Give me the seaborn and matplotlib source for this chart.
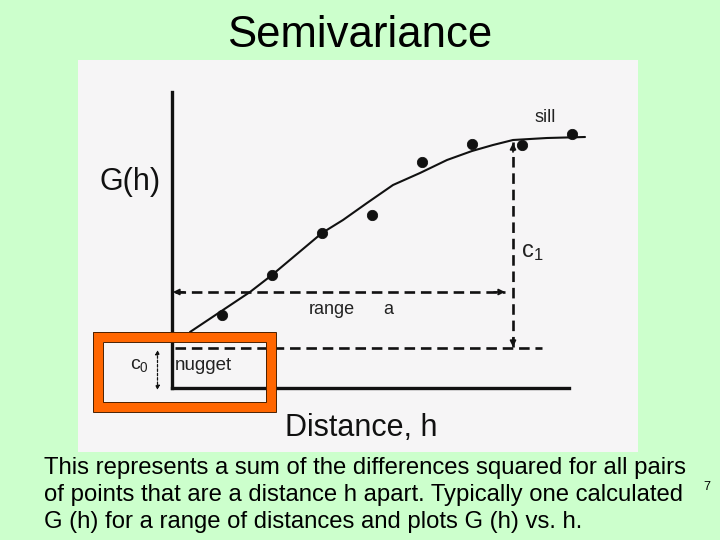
import matplotlib
matplotlib.use('Agg')
import matplotlib.pyplot as plt
from matplotlib.patches import Rectangle
import seaborn as sns

# semivariogram values (h = distance, G = semivariance)
lag_h = [5, 10, 15, 20, 25, 30, 35, 40]
lag_G = [7.3, 11.3, 15.5, 17.3, 22.6, 24.4, 24.3, 25.4]

# fitted model curve
curve_h = [1.8, 7.8, 10.0, 15.0, 17.1, 19.5, 22.1, 24.8, 27.5, 30.0, 32.1, 34.1, 37.5, 41.3]
curve_G = [5.6, 9.6, 11.3, 15.5, 16.8, 18.5, 20.3, 21.5, 22.8, 23.7, 24.3, 24.8, 25.0, 25.1]

nugget = 4.0
sill = 24.8
range_a = 34.1
range_line = 9.6

sns.set_theme(style='white')
plt.rcParams['font.family'] = ['Liberation Sans', 'DejaVu Sans']
plt.rcParams['mathtext.default'] = 'regular'
plt.rcParams['text.color'] = 'black'

ink = '#111111'
fig = plt.figure(figsize=(7.2, 5.4), dpi=100)
fig.patch.set_facecolor('#CCFFCC')

# the scanned picture area
fig.patches.append(Rectangle((78 / 720, 88 / 540), 560 / 720, 392 / 540,
                             transform=fig.transFigure, facecolor='#F6F5F6',
                             edgecolor='none', zorder=0.5))

ax = fig.add_axes([172 / 720, 152 / 540, 397 / 720, 296 / 540])
ax.set_zorder(2)
ax.set_facecolor('none')
ax.set_xlim(0, 39.7)
ax.set_ylim(0, 29.6)
ax.set_xticks([])
ax.set_yticks([])
for s in ['top', 'right']:
    ax.spines[s].set_visible(False)
for s in ['left', 'bottom']:
    ax.spines[s].set_linewidth(2.4)
    ax.spines[s].set_color(ink)

sns.lineplot(x=curve_h, y=curve_G, ax=ax, color=ink, lw=1.5, sort=False,
             estimator=None, clip_on=False, zorder=4)
sns.scatterplot(x=lag_h, y=lag_G, ax=ax, color=ink, s=55, edgecolor=ink,
                zorder=5, clip_on=False)

dash = (0, (4, 2.2))
ax.hlines(range_line, 0.3, range_a - 0.8, colors=ink, lw=1.9, linestyles=dash)
ax.hlines(nugget, 0.3, 37.0, colors=ink, lw=1.9, linestyles=dash)
ax.vlines(range_a, nugget + 0.1, sill - 0.2, colors=ink, lw=1.9, linestyles=dash)

head = dict(arrowstyle='-|>', color=ink, lw=1.2, mutation_scale=9, shrinkA=0, shrinkB=0)
ax.annotate('', xy=(0.1, range_line), xytext=(1.2, range_line), arrowprops=head)
ax.annotate('', xy=(range_a - 0.8, range_line), xytext=(range_a - 1.9, range_line), arrowprops=head)
ax.annotate('', xy=(range_a, nugget + 0.1), xytext=(range_a, nugget + 1.0), arrowprops=head)
ax.annotate('', xy=(range_a, sill - 0.3), xytext=(range_a, sill - 1.2), arrowprops=head)
ax.annotate('', xy=(-1.45, -0.2), xytext=(-1.45, nugget - 0.2), annotation_clip=False,
            arrowprops=dict(arrowstyle='<|-|>', color=ink, lw=0.9, ls=(0, (2, 1.5)),
                            mutation_scale=6, shrinkA=0, shrinkB=0))

ax.text(13.7, 7.8, 'range', fontsize=13, color='#222222', va='center')
ax.text(21.1, 7.8, 'a', fontsize=13, color='#222222', va='center')
ax.text(37.3, 27.0, 'sill', fontsize=13, color='#222222', ha='center', va='center')
ax.text(36.0, 13.6, 'c$_1$', fontsize=17, color='#222222', ha='center', va='center')
ax.text(0.3, 2.3, 'nugget', fontsize=13.5, color='#222222', va='center', clip_on=False)
ax.text(-3.3, 2.3, 'c$_0$', fontsize=14, color='#222222', ha='center', va='center',
        clip_on=False)

# axis titles of the scanned figure
ax.text(-0.106, 0.696, 'G(h)', transform=ax.transAxes, fontsize=22, color=ink,
        ha='center', va='center', clip_on=False)
ax.text(0.477, -0.135, 'Distance, h', transform=ax.transAxes, fontsize=22, color=ink,
        ha='center', va='center', clip_on=False)

# orange highlight box around the nugget
fig.patches.append(Rectangle((98 / 720, 133.5 / 540), 172.5 / 720, 69.5 / 540,
                             transform=fig.transFigure, fill=False,
                             edgecolor='#FF6600', lw=7.2, zorder=6))
for x0, y0, w, h in [(93, 128.5, 182.5, 79.5), (103, 138.5, 162.5, 59.5)]:
    fig.patches.append(Rectangle((x0 / 720, y0 / 540), w / 720, h / 540,
                                 transform=fig.transFigure, fill=False,
                                 edgecolor='#4A2000', lw=0.7, zorder=7))

fig.text(0.5, 1 - 47 / 540, 'Semivariance', fontsize=31.5, ha='center', va='baseline')

lines = ['This represents a sum of the differences squared for all pairs',
         'of points that are a distance h apart. Typically one calculated',
         'G (h) for a range of distances and plots G (h) vs. h.']
for i, t in enumerate(lines):
    fig.text(44 / 720, 1 - (474 + 27 * i) / 540, t, fontsize=17.2, ha='left', va='baseline')
fig.text(707 / 720, 1 - 490 / 540, '7', fontsize=9, ha='center', va='baseline')

fig.savefig('out.png', dpi=100, facecolor=fig.get_facecolor())
